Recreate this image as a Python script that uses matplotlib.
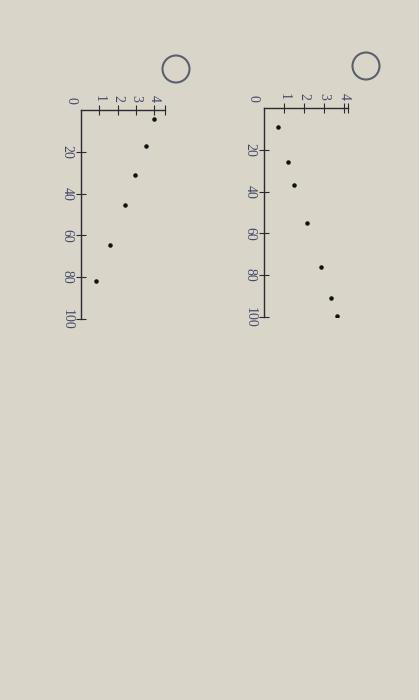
import numpy as np
import matplotlib.pyplot as plt
from matplotlib.patches import Ellipse

plt.rcParams['font.family'] = ['Liberation Serif', 'DejaVu Serif']

# chart drawn rotated 90 deg clockwise, as in the photo
x_top = [9, 26, 37, 55, 76, 91, 99.5]
y_top = [0.7, 1.2, 1.5, 2.15, 2.85, 3.35, 3.65]
x_bot = [4.5, 17, 31, 45.5, 64.5, 82]
y_bot = [4.0, 3.55, 2.95, 2.4, 1.6, 0.8]
x_ticks = [20, 40, 60, 80, 100]
y_ticks = [1, 2, 3, 4]

W, H = 419, 700
fig = plt.figure(figsize=(W / 100, H / 100), dpi=100)
fig.patch.set_facecolor('#d9d5c9')

ink = '#2a2a30'
lab = '#454a6a'


def panel(left_px, top_px, xs, ys, ymax, ppu):
    wpx = ymax * ppu
    hpx = 209
    ax = fig.add_axes([left_px / W, 1 - (top_px + hpx) / H, wpx / W, hpx / H])
    ax.set_facecolor('none')
    ax.scatter(ys, xs, s=5, color='#111111', zorder=3)
    ax.set_xlim(0, ymax)
    ax.set_ylim(100, 0)
    for s in ['right', 'bottom']:
        ax.spines[s].set_visible(False)
    for s in ['left', 'top']:
        ax.spines[s].set_color(ink)
        ax.spines[s].set_linewidth(1.0)
    ax.xaxis.tick_top()
    ax.set_xticks(y_ticks + [ymax])
    ax.set_xticklabels([str(t) for t in y_ticks] + [''], rotation=-90, fontsize=10, color=lab)
    ax.set_yticks(x_ticks)
    ax.set_yticklabels([str(t) for t in x_ticks], rotation=-90, fontsize=10, color=lab, va='center')
    ax.tick_params(direction='inout', length=7, color=ink, pad=2)
    ax.text(-0.2, -3, '0', rotation=-90, fontsize=10, color=lab, ha='right', va='bottom')
    return ax


panel(264, 108, x_top, y_top, 4.2, 20)
panel(81, 110, x_bot, y_bot, 4.6, 18.3)

for cx, cy in [(366, 66), (176, 69)]:
    fig.patches.append(Ellipse((cx / W, 1 - cy / H), 27 / W, 27 / H, transform=fig.transFigure,
                               fill=False, edgecolor='#5a6070', linewidth=1.5))

fig.savefig('out.png', dpi=100, facecolor=fig.get_facecolor())
